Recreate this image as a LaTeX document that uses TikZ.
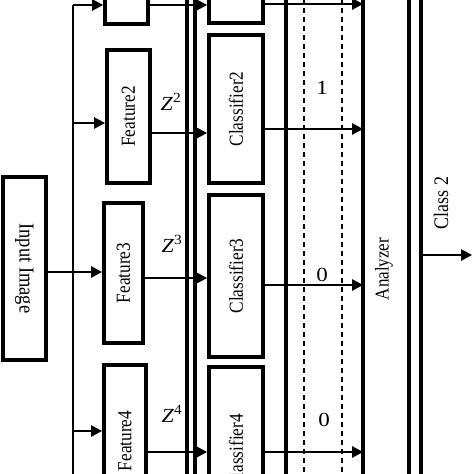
\documentclass[tikz,border=0pt]{standalone}
\usepackage{fontspec}
\setmainfont{Liberation Serif}
\usetikzlibrary{arrows.meta}

\newcommand{\vtxt}[2][90]{\rotatebox{#1}{\scalebox{1}[1.15]{#2}}}

\begin{document}
\begin{tikzpicture}[x=1pt,y=-1pt,line width=1.3pt,>={Triangle[length=11pt,width=11.5pt]},
    blk/.style={draw,line width=4pt,inner sep=0pt,font=\fontsize{17.3}{20}\selectfont},
    bar/.style={line width=4pt},
    lbl/.style={font=\fontsize{20}{22}\selectfont}]
    \useasboundingbox (0,0) rectangle (474,474);
    \clip (0,0) rectangle (474,474);

    % input and feature blocks
    \node[blk,minimum width=43.5pt,minimum height=183pt] (in) at (24.3,268.5) {\vtxt[-90]{\fontsize{18.5}{20}\selectfont Input Image}};
    \node[blk,minimum width=43pt,minimum height=133pt] (F1) at (126.5,-42.5) {};
    \node[blk,minimum width=43pt,minimum height=133pt] (F2) at (128.5,116.5) {\vtxt{Feature2}};
    \node[blk,minimum width=39pt,minimum height=140pt] (F3) at (123.5,273) {\vtxt{Feature3}};
    \node[blk,minimum width=42pt,minimum height=152pt] (F4) at (125,441) {\vtxt{Feature4}};

    % classifier blocks
    \node[blk,minimum width=54pt,minimum height=148pt] (C1) at (236,-51) {};
    \node[blk,minimum width=54pt,minimum height=148pt] (C2) at (236,109) {\vtxt{Classifier2}};
    \node[blk,minimum width=54pt,minimum height=162pt] (C3) at (236,276) {\vtxt{Classifier3}};
    \node[blk,minimum width=54pt,minimum height=169pt] (C4) at (236,451.5) {\vtxt{Classifier4}};

    % long vertical bars
    \foreach \x in {187,195,285.5,363,409,420.5}
        \draw[bar] (\x,-10) -- (\x,484);
    \foreach \x in {304,342}
        \draw[dash pattern=on 5pt off 4pt] (\x,-10) -- (\x,484);
    \coordinate (bus) at (73,5);
    \coordinate (ana) at (363,0);
    \coordinate (res) at (420.5,255);
    \coordinate (out) at (472,255);

    % input bus
    \draw (bus) -- (73,484);
    \draw[->] (bus) -- (F1.west |- bus);
    \draw[->] (bus |- 0,123) -- (F2.west |- 0,123);
    \draw[->] (in.east |- 0,272) -- (F3.west |- 0,272);
    \draw[->] (bus |- 0,431) -- (F4.west |- 0,431);

    % feature to classifier
    \draw[->] (F1.east |- 0,5) -- (C1.west |- 0,5);
    \draw[->] (F2.east |- 0,133) -- (C2.west |- 0,133);
    \draw[->] (F3.east |- 0,278) -- (C3.west |- 0,278);
    \draw[->] (F4.east |- 0,452) -- (C4.west |- 0,452);
    \node[lbl] (z2) at (171,102) {\scalebox{1.1}[1]{\textit{Z}\textsuperscript{2}}};
    \node[lbl] (z3) at (172,244) {\scalebox{1.1}[1]{\textit{Z}\textsuperscript{3}}};
    \node[lbl] (z4) at (172,414) {\scalebox{1.1}[1]{\textit{Z}\textsuperscript{4}}};

    % classifier to analyzer
    \draw[->] (C1.east |- 0,4) -- (ana |- 0,4);
    \draw[->] (C2.east |- 0,129) -- (ana |- 0,129);
    \draw[->] (C3.east |- 0,285) -- (ana |- 0,285);
    \draw[->] (C4.east |- 0,452) -- (ana |- 0,452);
    \node[lbl] (o2) at (322,88) {\scalebox{1.15}[1]{1}};
    \node[lbl] (o3) at (322,275) {\scalebox{1.15}[1]{0}};
    \node[lbl] (o4) at (324,420) {\scalebox{1.15}[1]{0}};

    \node[font=\fontsize{17}{20}\selectfont] (an) at (384,269) {\vtxt{Analyzer}};
    \draw[->] (res) -- (out);
    \node[font=\fontsize{18}{20}\selectfont] (cl) at (441,203) {\vtxt{Class 2}};
\end{tikzpicture}
\end{document}
